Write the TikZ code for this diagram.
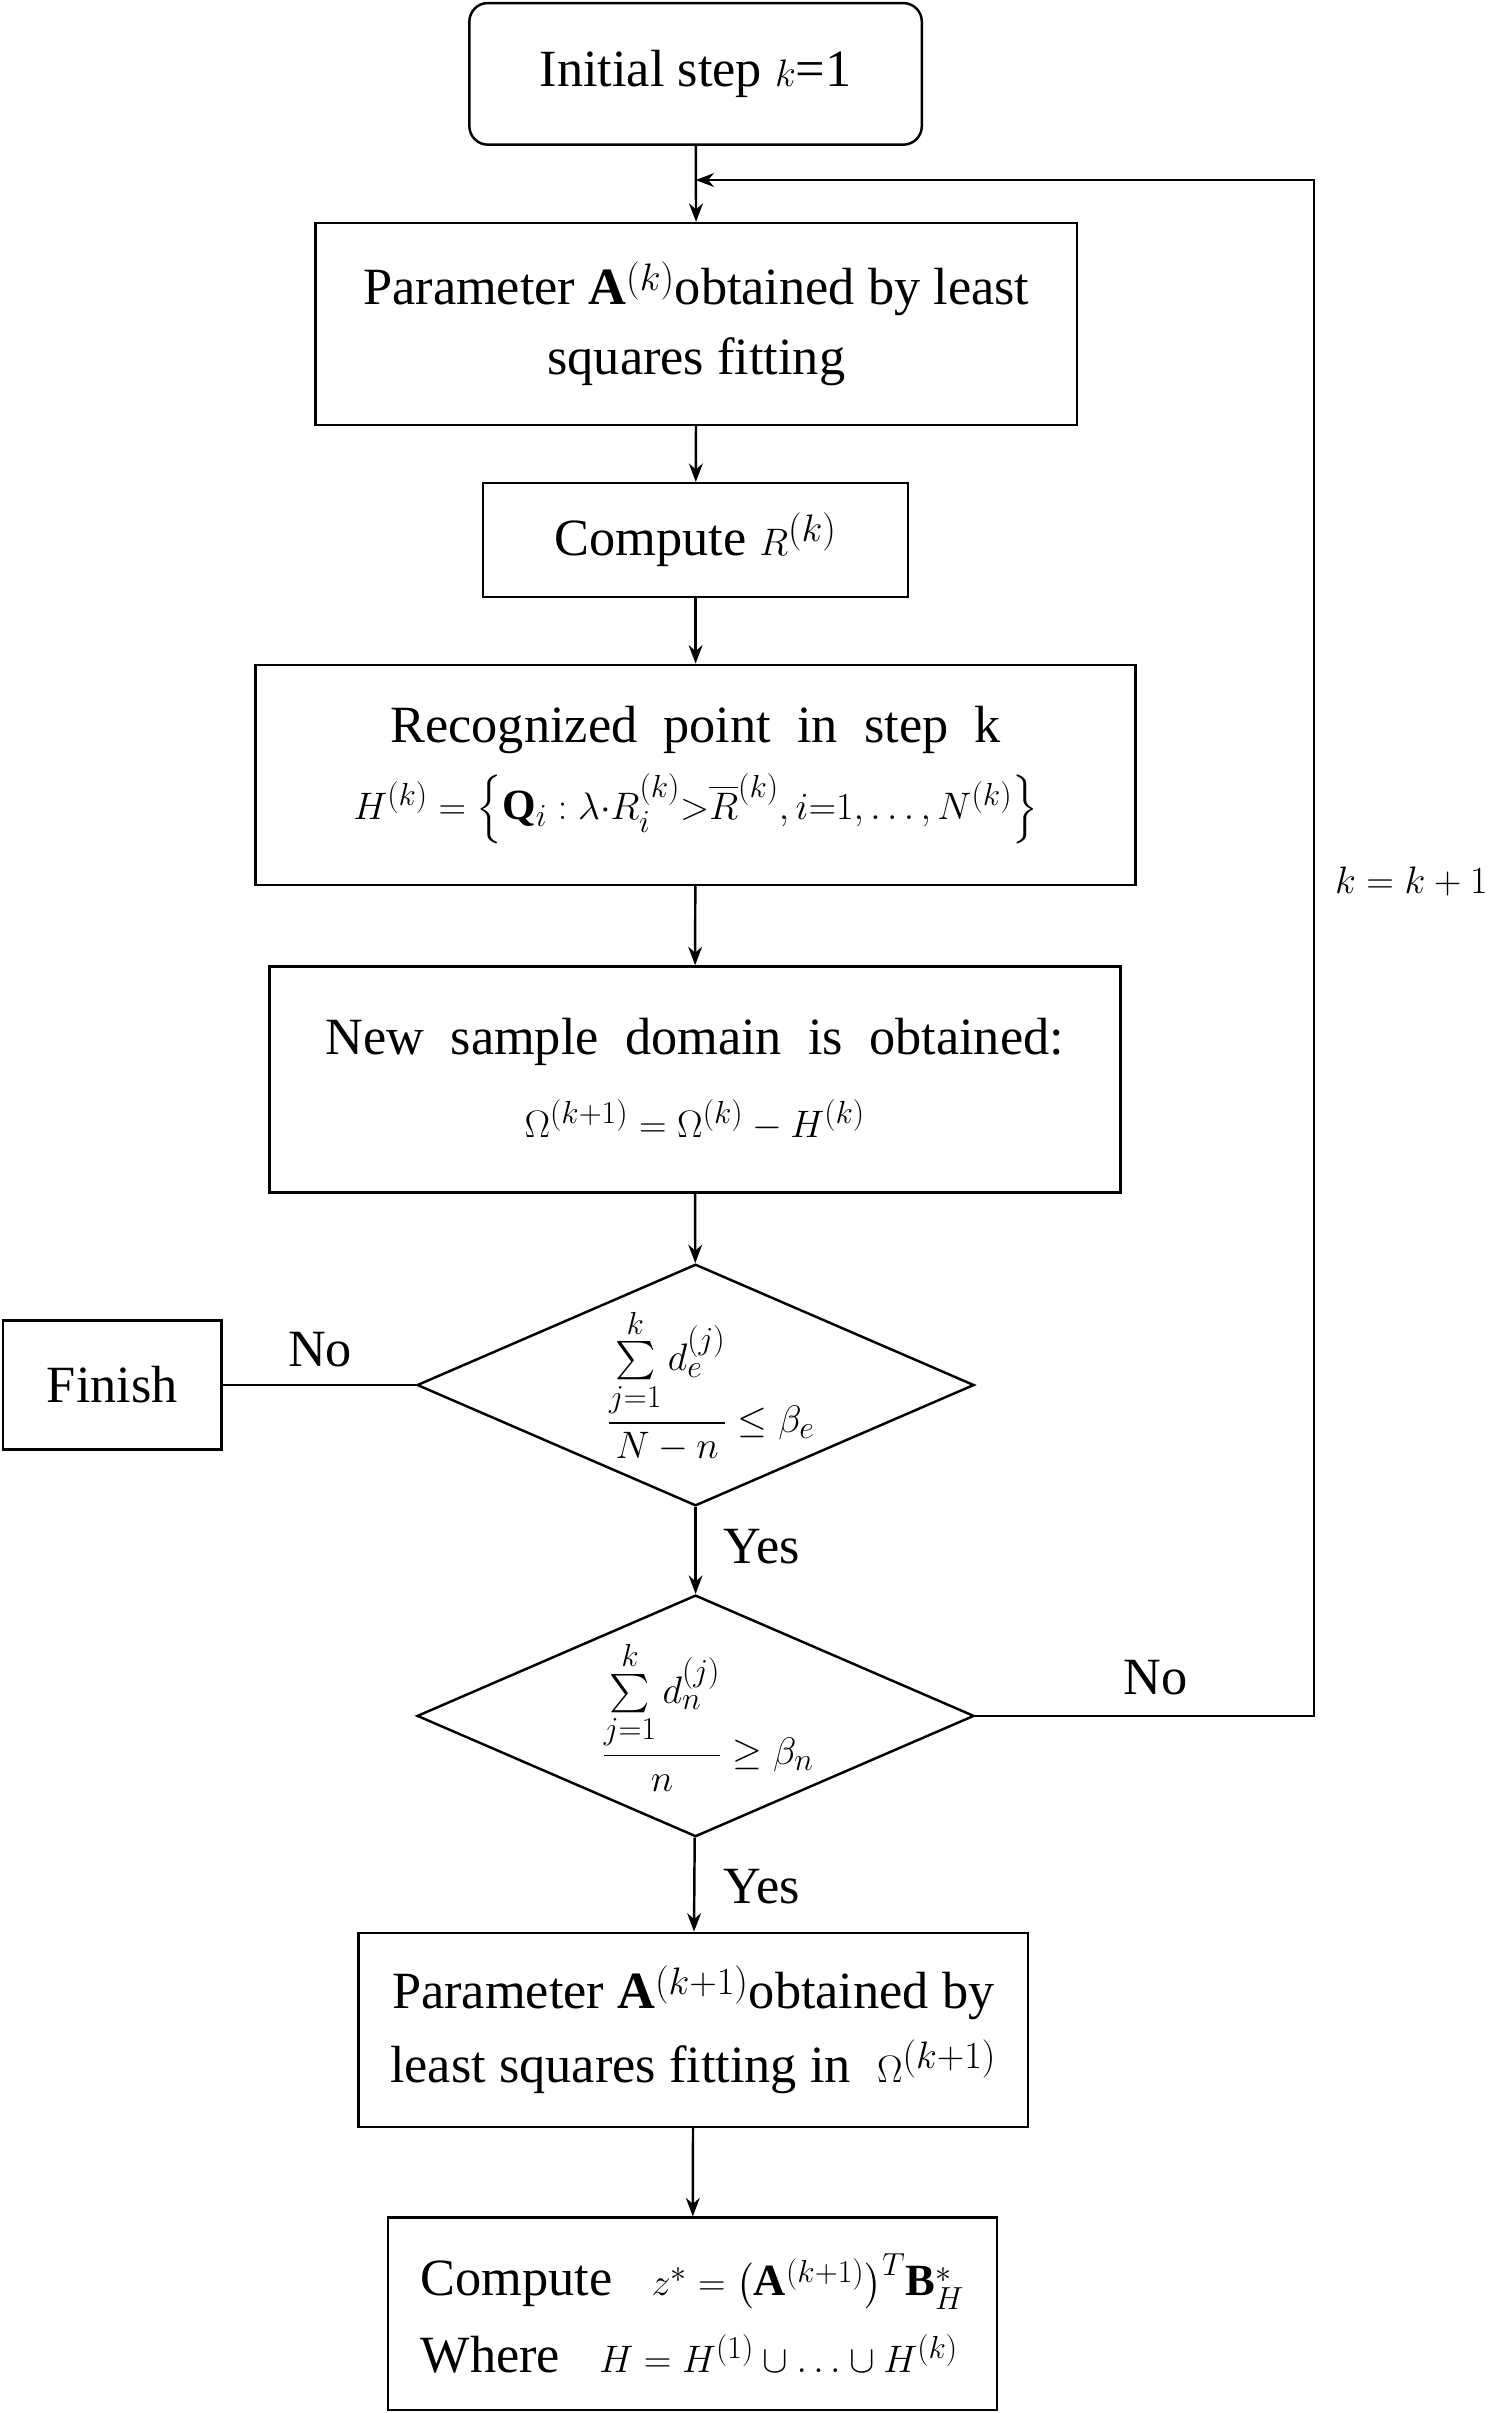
\documentclass[tikz,border=0pt]{standalone}
\usepackage{fontspec}
\setmainfont{Liberation Serif}
\usepackage{amsmath}
\usetikzlibrary{arrows.meta,shapes.geometric}
\begin{document}
\begin{tikzpicture}[x=1pt,y=-1pt,
  every node/.style={font=\fontsize{34}{44}\selectfont},
  box/.style={draw,line width=1.6pt,inner sep=0pt,align=center},
  dia/.style={draw,line width=1.6pt,diamond,inner sep=0pt,minimum width=362pt,minimum height=157pt,aspect=2.3},
  conn/.style={line width=1.6pt,-{Stealth[length=12pt,width=9pt]}},
  mth/.style={font=\fontsize{29}{34}\selectfont},
  lbl/.style={font=\fontsize{34}{40}\selectfont}]
\useasboundingbox (0,0) rectangle (975,1568);
\node[box,rounded corners=12pt,minimum width=294pt,minimum height=92pt] (s) at (452,48) {Initial step $k$=1};
\node[box,minimum width=495pt,minimum height=131pt] (b1) at (452.5,210.5) {Parameter $\mathbf{A}^{(k)}$obtained by least\\[2pt] squares fitting};
\node[box,minimum width=276pt,minimum height=74pt] (b2) at (452,351) {Compute $R^{(k)}$};
\node[box,minimum width=572pt,minimum height=143pt] (b3) at (452,503.5) {Recognized\ \ point\ \ in\ \ step\ \ k\\[6pt]
 {\fontsize{28}{32}\selectfont $H^{(k)}=\Bigl\{\mathbf{Q}_i : \lambda{\cdot}R_i^{(k)}{>}\overline{R}^{(k)}, i{=}1,\ldots,N^{(k)}\Bigr\}$}};
\node[box,minimum width=553pt,minimum height=147pt] (b4) at (451.5,701.5) {New\ \ sample\ \ domain\ \ is\ \ obtained:\\[10pt]
 {\fontsize{29}{32}\selectfont $\Omega^{(k+1)}=\Omega^{(k)}-H^{(k)}$}};
\node[dia] (d1) at (452,900) {};
\node[mth] (t1) at (462,900) {$\dfrac{\sum\limits_{j=1}^{k} d_e^{(j)}}{N-n}\le\beta_e$};
\node[box,minimum width=142pt,minimum height=84pt] (f) at (73,900) {Finish};
\node[dia] (d2) at (452,1115) {};
\node[mth] (t2) at (460,1115) {$\dfrac{\sum\limits_{j=1}^{k} d_n^{(j)}}{n}\ge\beta_n$};
\node[box,minimum width=435pt,minimum height=126pt] (b5) at (450.5,1319) {Parameter $\mathbf{A}^{(k+1)}$obtained by\\[4pt] least squares fitting in\ \ $\Omega^{(k+1)}$};
\node[box,minimum width=396pt,minimum height=125pt,align=left] (b6) at (450,1503.5) {Compute\ \ \ {\fontsize{29}{32}\selectfont $z^*=\bigl(\mathbf{A}^{(k+1)}\bigr)^T\mathbf{B}_H^*$}\\[6pt]
 Where\ \ \ {\fontsize{29}{32}\selectfont $H=H^{(1)}\cup\ldots\cup H^{(k)}$}};
\draw[conn] (s) -- (b1);
\draw[conn] (b1) -- (b2);
\draw[conn] (b2) -- (b3);
\draw[conn] (b3) -- (b4);
\draw[conn] (b4) -- (d1);
\draw[line width=1.6pt] (d1.west) -- (f.east);
\draw[conn] (d1) -- (d2);
\draw[conn] (d2) -- (b5);
\draw[conn] (b5) -- (b6);
\coordinate (c1) at (854,1115);
\coordinate (c2) at (854,117);
\coordinate (c3) at (452,117);
\draw[conn] (d2.east) -- (c1) -- (c2) -- (c3);
\node[lbl] at (208,877) {No};
\node[lbl] at (751,1090) {No};
\node[lbl] at (495,1005) {Yes};
\node[lbl] at (495,1226) {Yes};
\node[lbl,anchor=west] at (864,573) {$k=k+1$};
\end{tikzpicture}
\end{document}
